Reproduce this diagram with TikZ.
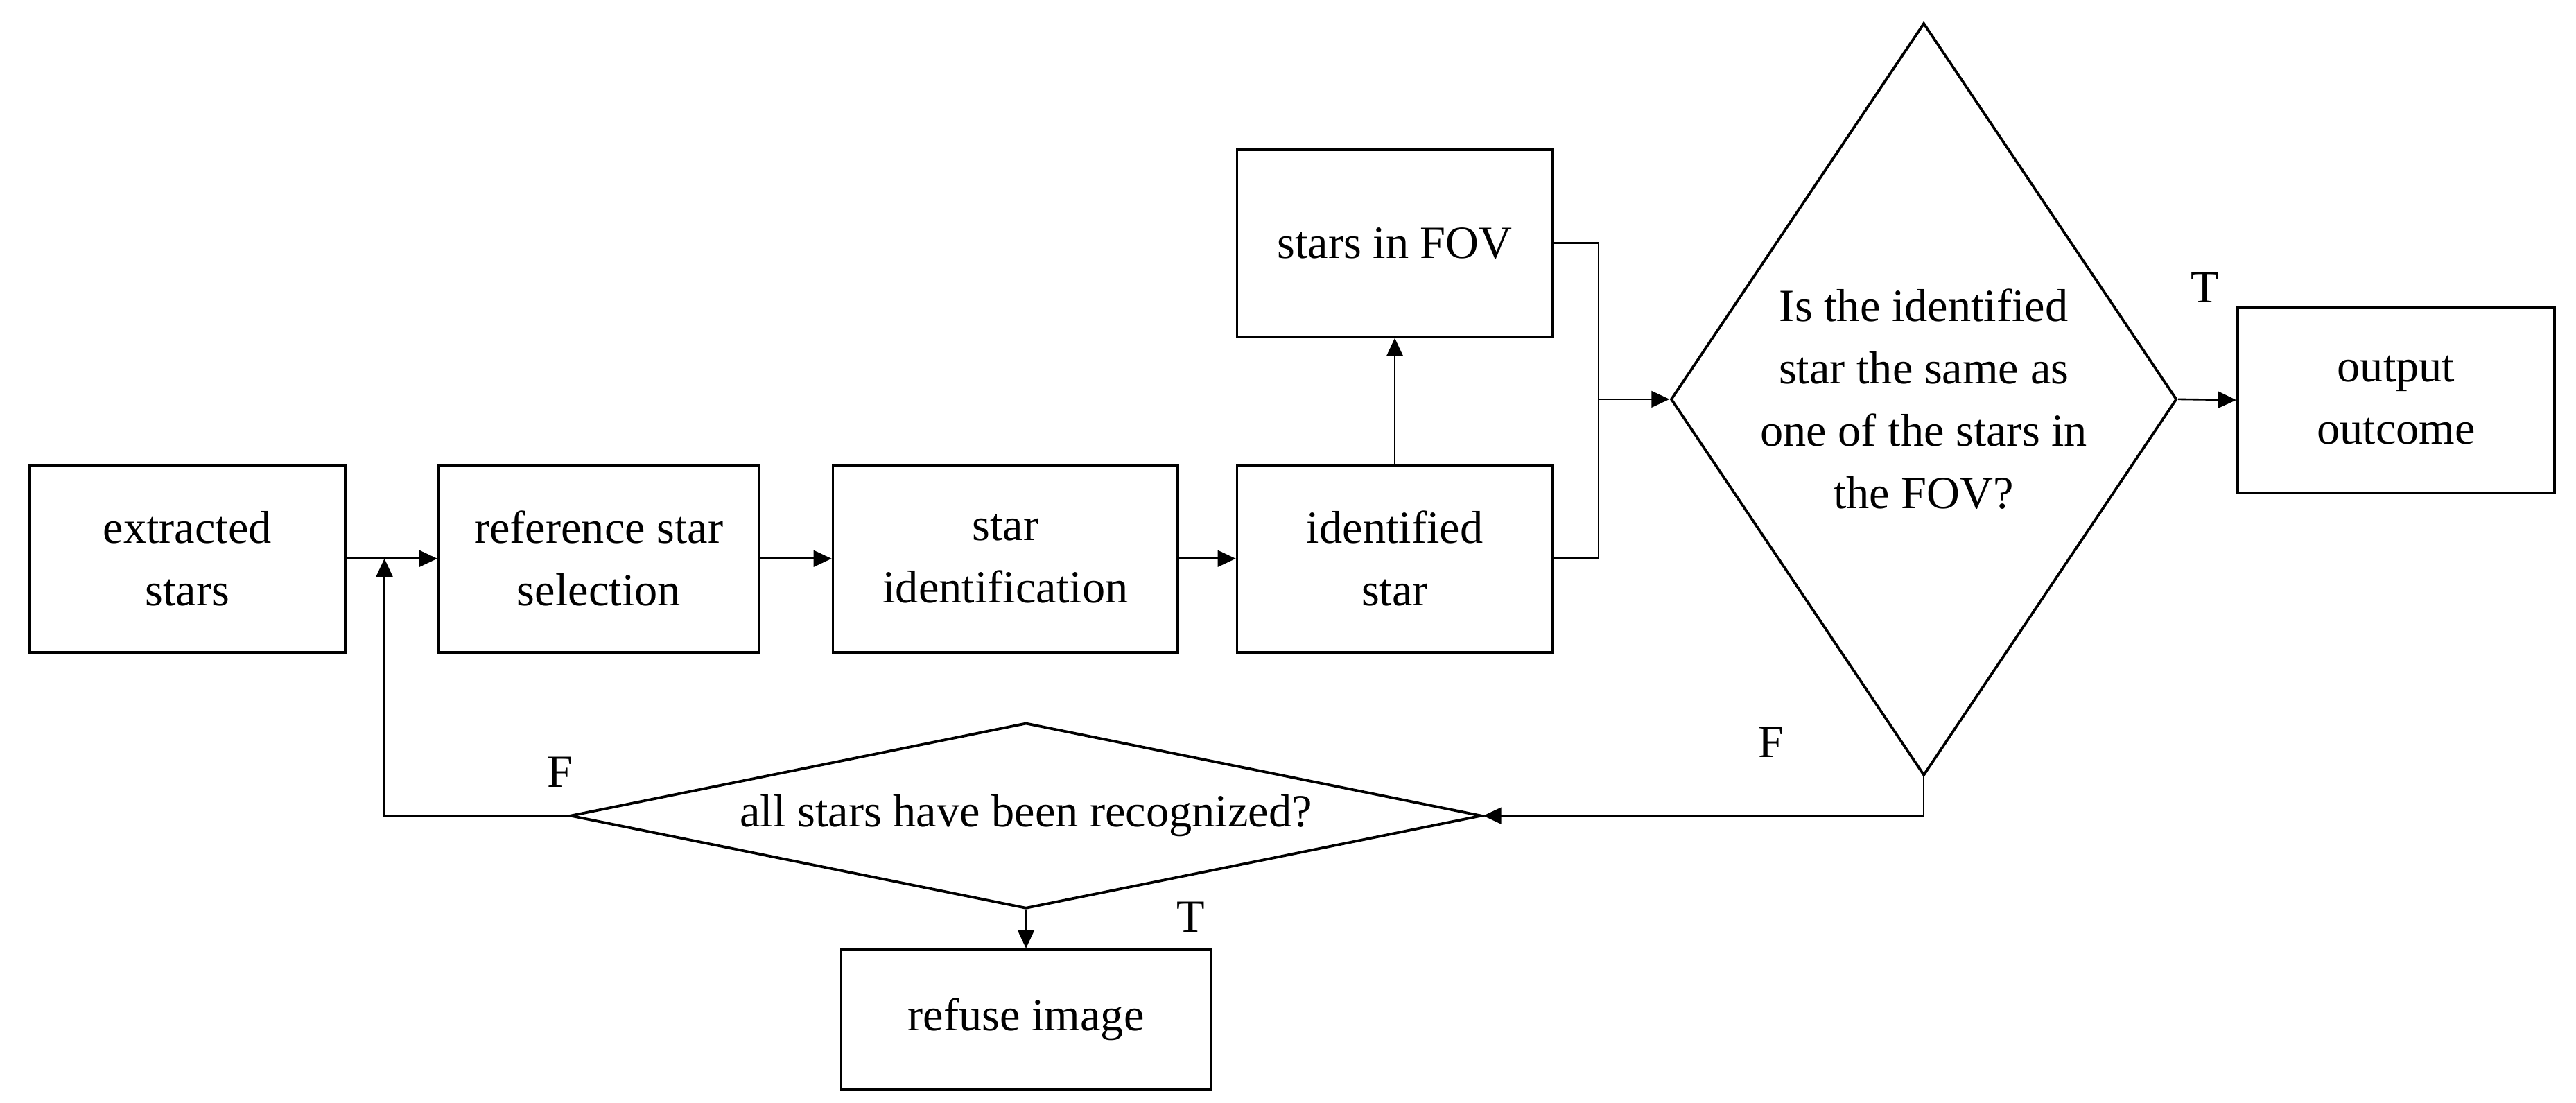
\documentclass[tikz,border=0pt]{standalone}
\usepackage{fontspec}
\setmainfont{Liberation Serif}
\usetikzlibrary{shapes.geometric,arrows.meta}
\begin{document}
\begin{tikzpicture}[x=1pt,y=-1pt,
  box/.style={draw,line width=1.6pt,minimum width=#1,inner sep=0pt,align=center,font=\fontsize{28}{38}\selectfont},
  lab/.style={font=\fontsize{28}{32}\selectfont},
  ln/.style={line width=1.1pt},
  ar/.style={ln,-{Triangle[length=11pt,width=10pt]}}]
\useasboundingbox (0,0) rectangle (1568,671);
\node[box=192pt,minimum height=114pt] (ext) at (114,340) {extracted\\stars};
\node[box=195pt,minimum height=114pt] (ref) at (364.5,340) {reference star\\selection};
\node[box=210pt,minimum height=114pt] (sid) at (612,340) {star\\identification};
\node[box=192pt,minimum height=114pt] (ids) at (849,340) {identified\\star};
\node[box=192pt,minimum height=114pt] (fov) at (849,148) {stars in FOV};
\node[box=193pt,minimum height=113pt] (out) at (1458.5,243.5) {output\\outcome};
\node[box=225pt,minimum height=85pt] (refu) at (624.5,620.5) {refuse image};
\node[draw,line width=1.6pt,diamond,minimum width=308pt,minimum height=458pt,inner sep=0pt] (d1) at (1171,243) {};
\node[box=1pt,draw=none,align=center] at (d1) {Is the identified\\star the same as\\one of the stars in\\the FOV?};
\node[draw,line width=1.6pt,diamond,minimum width=555pt,minimum height=113pt,inner sep=0pt] (d2) at (624.5,496.5) {};
\node[box=1pt,draw=none] at (d2) {all stars have been recognized?};
\coordinate (j) at (234,340);
\coordinate (m) at (973,243);
\draw[ar] (ext.east) -- (ref.west);
\draw[ar] (ref.east) -- (sid.west);
\draw[ar] (sid.east) -- (ids.west);
\draw[ar] (ids.north) -- (fov.south);
\draw[ln] (fov.east) -| (m);
\draw[ln] (ids.east) -| (m);
\draw[ar] (m) -- (d1.west);
\draw[ar] (d1.east) -- (out.west);
\draw[ar] (d1.south) |- (d2.east);
\draw[ar] (d2.west) -| (j);
\draw[ar] (d2.south) -- (refu.north);
\node[lab] at (1342,175) {T};
\node[lab] at (1078,452) {F};
\node[lab] at (341,470) {F};
\node[lab] at (725,558) {T};
\end{tikzpicture}
\end{document}
